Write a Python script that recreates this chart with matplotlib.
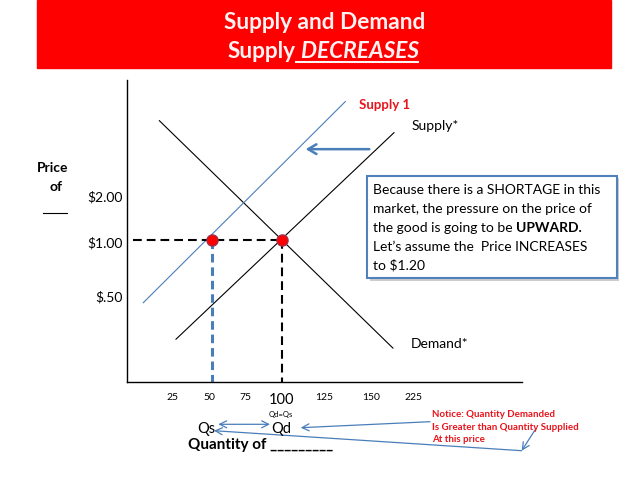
import matplotlib
matplotlib.use('Agg')
import matplotlib.pyplot as plt
from matplotlib.patches import Rectangle, FancyArrowPatch
from matplotlib.lines import Line2D

plt.rcParams['font.family'] = ['Lato', 'DejaVu Sans']

W, H = 638, 479

# chart values
qty_labels = ['25', '50', '75', '100', '125', '150', '225']
price_labels = ['$2.00', '$1.00', '$.50']
demand_q = [16, 176]
demand_p = [3.67, -1.44]
supply_q = [27.4, 176.7]      # Supply*
supply_p = [-1.24, 3.40]
supply1_q = [5.0, 143.4]      # Supply 1 (shifted left)
supply1_p = [-0.42, 4.10]
eq_q = [52, 100]              # Qs, Qd at the old price
eq_p = [1.0, 1.0]

box_lines = [
    [('Because there is a SHORTAGE in this', {}, False)],
    [('market, the pressure on the price of', {}, False)],
    [('the good is going to be ', {}, False), ('UPWARD.', {'weight': 'bold'}, True)],
    [('Let\u2019s assume the  Price INCREASES', {}, False)],
    [('to $1.20', {}, False)],
]
notice_lines = ['Notice: Quantity Demanded', 'Is Greater than Quantity Supplied', 'At this price']

BLUE = '#4a7ebb'
RED = '#e8141c'

# layout (slide is schematic, ticks are not on a linear scale)
xtick_pos = [25, 50, 75, 100, 129, 161, 190]
ytick_pos = [1.98, 0.93, -0.28]


def fx(x):
    return x / W


def fy(y):
    return 1 - y / H


fig = plt.figure(figsize=(W / 100, H / 100), dpi=100)
renderer = fig.canvas.get_renderer()

# red title banner
fig.add_artist(Rectangle((fx(37), fy(68)), fx(611) - fx(37), fy(0) - fy(68),
                         transform=fig.transFigure, color='#ff0000', zorder=0))


def runs(x, y, parts, size, color='black', center=False):
    # draw pieces of text side by side, optionally underlined
    texts = []
    for s, props, ul in parts:
        t = fig.text(0, fy(y), s, fontsize=size, color=color, va='center', ha='left', **props)
        texts.append((t, ul))
    widths = [t.get_window_extent(renderer).width for t, _ in texts]
    if center:
        x = x - sum(widths) / 2
    for (t, ul), w in zip(texts, widths):
        t.set_x(fx(x))
        if ul:
            yl = y + size * 0.62
            fig.add_artist(Line2D([fx(x), fx(x + w)], [fy(yl), fy(yl)], transform=fig.transFigure,
                                  color=color, lw=size / 11))
        x += w


fig.text(fx(325), fy(22.5), 'Supply and Demand', fontsize=16.3, weight='bold',
         color='#fff2f2', ha='center', va='center')
runs(323, 51.5, [('Supply', {'weight': 'bold'}, False),
                 (' DECREASES', {'weight': 'bold', 'style': 'italic'}, True)],
     16.3, color='#fff2f2', center=True)

# main chart
ax = fig.add_axes([fx(127), fy(382), fx(522) - fx(127), (382 - 80) / H])
ax.set_xlim(-6.16, 264.4)
ax.set_ylim(-2.202, 4.584)
for s in ['top', 'right']:
    ax.spines[s].set_visible(False)
for s in ['left', 'bottom']:
    ax.spines[s].set_linewidth(1.0)

ax.plot(demand_q, demand_p, color='black', lw=0.8)
ax.plot(supply_q, supply_p, color='black', lw=0.8)
ax.plot(supply1_q, supply1_p, color=BLUE, lw=0.8)

ax.plot([-2, eq_q[1]], [eq_p[1], eq_p[1]], color='black', lw=1.5, dashes=(4.2, 2.4))
ax.plot([eq_q[1], eq_q[1]], [eq_p[1], -2.202], color='black', lw=1.5, dashes=(4.2, 2.4),
        clip_on=False)
ax.plot([eq_q[0], eq_q[0]], [eq_p[0], -2.202], color=BLUE, lw=2.2, dashes=(2.8, 1.6),
        clip_on=False)
ax.plot(eq_q, eq_p, 'o', ms=8, mfc='#ff0000', mec='#a03048', mew=1, zorder=5)

ax.annotate('', xy=(116.2, 3.03), xytext=(159.8, 3.03),
            arrowprops=dict(arrowstyle='->,head_length=0.6,head_width=0.35',
                            color=BLUE, lw=1.8, shrinkA=0, shrinkB=0))

ax.set_xticks(xtick_pos, qty_labels)
ax.set_yticks(ytick_pos, price_labels)
ax.tick_params(axis='x', length=0, pad=8, labelsize=7.5)
ax.tick_params(axis='y', length=0, pad=3, labelsize=10)
for lbl in ax.get_xticklabels():
    if lbl.get_text() == '100':
        lbl.set_fontsize(10.5)

# curve labels
fig.text(fx(385), fy(105), 'Supply 1', fontsize=9.5, weight='bold', color=RED, ha='center', va='center')
fig.text(fx(411.7), fy(126), 'Supply*', fontsize=10, ha='left', va='center')
fig.text(fx(410.7), fy(344), 'Demand*', fontsize=10, ha='left', va='center')

# price axis label
fig.text(fx(53), fy(168.3), 'Price', fontsize=10, weight='bold', ha='center', va='center')
fig.text(fx(55.5), fy(187.3), 'of', fontsize=10, weight='bold', ha='center', va='center')
fig.add_artist(Line2D([fx(43.3), fx(66.7)], [fy(212.7), fy(212.7)], transform=fig.transFigure,
                      color='black', lw=0.8))

# explanation box
fig.add_artist(Rectangle((fx(369.5), fy(280.5)), fx(616.7) - fx(367.3), fy(175.7) - fy(278.3),
                         transform=fig.transFigure, facecolor='#cccccc', edgecolor='none', zorder=2))
fig.add_artist(Rectangle((fx(367.3), fy(278.3)), fx(616.7) - fx(367.3), fy(175.7) - fy(278.3),
                         transform=fig.transFigure, facecolor='white', edgecolor='#4f81bd',
                         lw=1.5, zorder=3))
for i, parts in enumerate(box_lines):
    runs(373.3, 190 + 18.9 * i, parts, 10)

# quantity axis notes
fig.text(fx(281), fy(414), 'Qd=Qs', fontsize=5.5, ha='center', va='center')
fig.text(fx(206), fy(429.3), 'Qs', fontsize=10.5, ha='center', va='center')
fig.text(fx(281.7), fy(429.3), 'Qd', fontsize=10.5, ha='center', va='center')
fig.text(fx(260.5), fy(445), 'Quantity of _________', fontsize=11, weight='bold',
         ha='center', va='center')
for i, s in enumerate(notice_lines):
    fig.text(fx(432.3), fy([414.3, 427, 440][i]), s, fontsize=7, weight='bold', color=RED,
             ha='left', va='center')


def arrow(p0, p1, style):
    fig.add_artist(FancyArrowPatch((fx(p0[0]), fy(p0[1])), (fx(p1[0]), fy(p1[1])),
                                   transform=fig.transFigure, arrowstyle=style,
                                   mutation_scale=10, color=BLUE, lw=0.9,
                                   shrinkA=0, shrinkB=0))


arrow((218.3, 424.3), (270, 424.3), '<->,head_length=0.5,head_width=0.25')
arrow((430, 421.7), (300.7, 427.7), '->,head_length=0.5,head_width=0.25')
arrow((521.7, 450.7), (214, 430.7), '->,head_length=0.5,head_width=0.25')
arrow((535, 430), (521.7, 450.7), '->,head_length=0.5,head_width=0.25')

fig.savefig('out.png', dpi=100)
